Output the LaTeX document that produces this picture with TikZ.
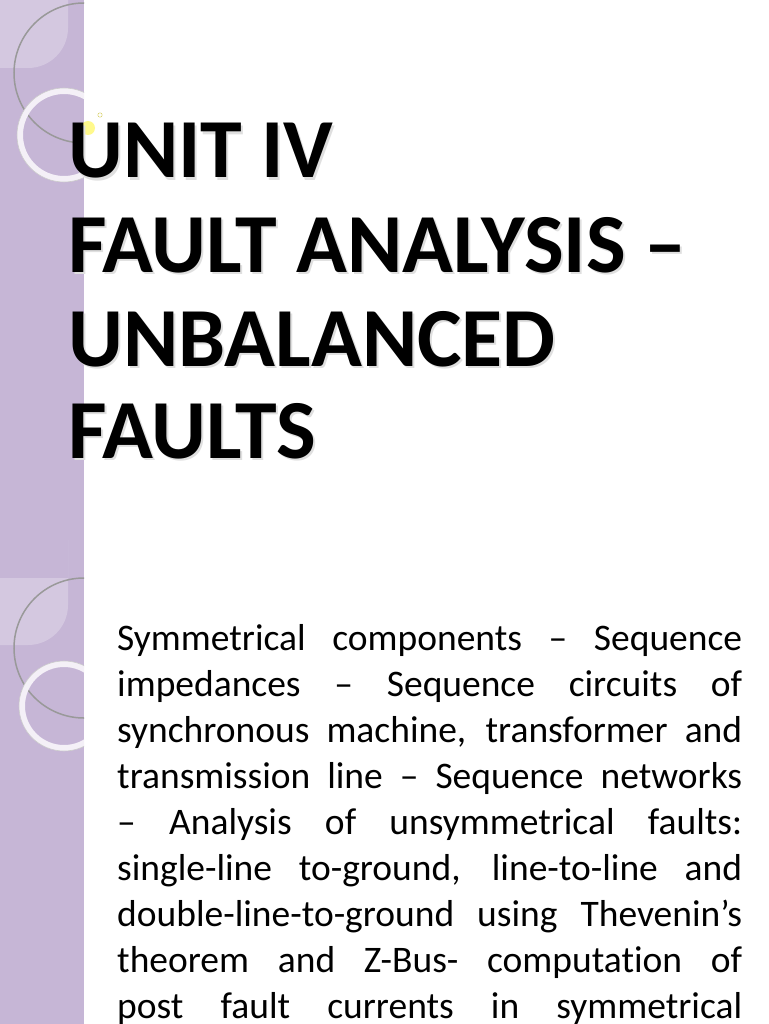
\documentclass[tikz,border=0pt]{standalone}
\usepackage{fontspec}
\setmainfont{Carlito}[Ligatures={NoCommon}]
\definecolor{strip}{HTML}{C6B6D6}
\begin{document}
\begin{tikzpicture}[x=1pt,y=-1pt,
  title/.style={anchor=base west,inner sep=0pt,font=\fontsize{84}{93}\selectfont\bfseries},
  body/.style={anchor=base west,inner sep=0pt,font=\fontsize{37.5}{46}\selectfont}]
\useasboundingbox (0,0) rectangle (768,1024);
\fill[white] (0,0) rectangle (768,1024);
\fill[strip] (0,0) rectangle (84,1024);
\begin{scope}
\clip (0,0) rectangle (84,1024);
\fill[white,opacity=0.25,rounded corners=40pt] (-50,-50) rectangle (68,68);
\fill[white,opacity=0.25,rounded corners=40pt] (-50,500) rectangle (68,645);
\fill[strip] (-50,-50) rectangle (68,0);
\fill[strip] (-50,500) rectangle (68,578);
\draw[gray!80,line width=1.5pt] (84,73) circle (70);
\draw[gray!80,line width=1.5pt] (84,648) circle (70);
\draw[white!80!strip,line width=6pt] (64,135) circle (44);
\draw[gray!40,line width=0.6pt] (64,135) circle (47);
\draw[white!80!strip,line width=6pt] (64,706) circle (42);
\draw[gray!40,line width=0.6pt] (64,706) circle (45);
\end{scope}
\fill[yellow!45!white] (88,128) circle (7);
\draw[yellow!60!gray] (100,115) circle (2.2);
\foreach \t/\y/\n in {UNIT IV/178/t1, FAULT ANALYSIS –/272/t2, UNBALANCED/366/t3, FAULTS/458/t4}{
  \node[title,text=gray!25] at (70,\y+2.5) {\t};
  \node[title] (\n) at (68,\y) {\t};
}
\foreach \l [count=\i] in {
 {Symmetrical components – Sequence},
 {impedances – Sequence circuits of},
 {synchronous machine, transformer and},
 {transmission line – Sequence networks},
 {– Analysis of unsymmetrical faults:},
 {single-line to-ground, line-to-line and},
 {double-line-to-ground using Thevenin’s},
 {theorem and Z-Bus- computat\kern0pt ion of},
 {post fault currents in symmetrical}}{
  \node[body] (b\i) at (117,604+46*\i) {\makebox[625pt][s]{\l}};
}
\end{tikzpicture}
\end{document}
